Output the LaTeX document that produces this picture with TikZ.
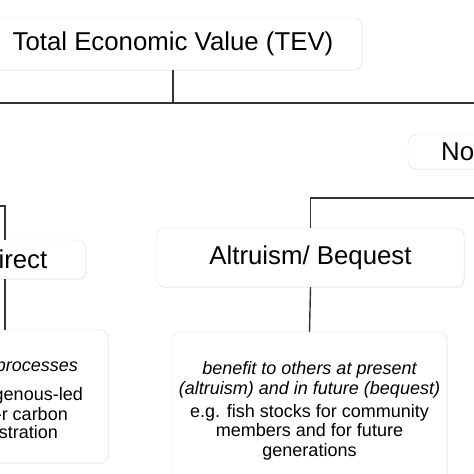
\documentclass[tikz,border=0pt]{standalone}
\usepackage{fontspec}
\setmainfont{Liberation Sans}
\usetikzlibrary{shadows}

\begin{document}
\begin{tikzpicture}[x=1pt, y=-1pt,
  box/.style={draw=black!12, fill=white, rounded corners=8pt, inner sep=0pt,
    drop shadow={opacity=0.10, shadow xshift=0.8pt, shadow yshift=-0.8pt}},
  link/.style={draw=black!80, line width=1.4pt},
  big/.style={font=\fontsize{25.8}{30}\selectfont},
  small/.style={font=\fontsize{18}{19.5}\selectfont}]

\useasboundingbox (0,0) rectangle (474,474);
\clip (0,0) rectangle (474,474);

\node[box, big, minimum width=378pt, minimum height=52pt] (tev) at (173,44) {Total Economic Value (TEV)};
\node[box, minimum width=200pt, minimum height=34pt] (nonuse) at (508,152) {};
\node[box, minimum width=162pt, minimum height=39pt] (indirect) at (5,259.5) {};
\node[box, minimum width=206pt, minimum height=133pt] (indirectdesc) at (5,396.5) {};
\node[box, big, minimum width=307pt, minimum height=59pt] (altruism) at (310.5,257.5) {Altruism/ Bequest};
\node[box, small, align=center, minimum width=275pt, minimum height=158pt] (altruismdesc) at (309.5,411)
  {\itshape benefit to others at present\\ \itshape (altruism) and in future (bequest)\\[3.5pt]
   e.g. fish stocks for community\\ members and for future\\ generations};

\node[big, anchor=west, inner sep=0pt] (nonusetext) at (441,152) {No};
\node[big, anchor=east, inner sep=0pt] (indirecttext) at (47.5,259) {irect};
\node[small, anchor=east, inner sep=0pt, font=\fontsize{18}{19.5}\selectfont\itshape] (ld1) at (78,369) {processes};
\node[small, anchor=east, inner sep=0pt] (ld2) at (83,396) {genous-led};
\node[small, anchor=east, inner sep=0pt] (ld3) at (68,414) {-r carbon};
\node[small, anchor=east, inner sep=0pt] (ld4) at (58,432) {stration};

\coordinate (splitL) at (-10,103);
\coordinate (splitR) at (490,103);
\coordinate (useL) at (-10,206);
\coordinate (nonuseR) at (490,198);

\draw[link] (splitL) -- (splitR);
\draw[link] (tev.south) -- (tev.south |- splitL);
\draw[link] (indirect.north) |- (useL);
\draw[link] (altruism.north) |- (nonuseR);
\draw[link] (indirect.south) -- (indirectdesc.north);
\draw[link] (altruism.south) -- (altruismdesc.north);

\end{tikzpicture}
\end{document}
